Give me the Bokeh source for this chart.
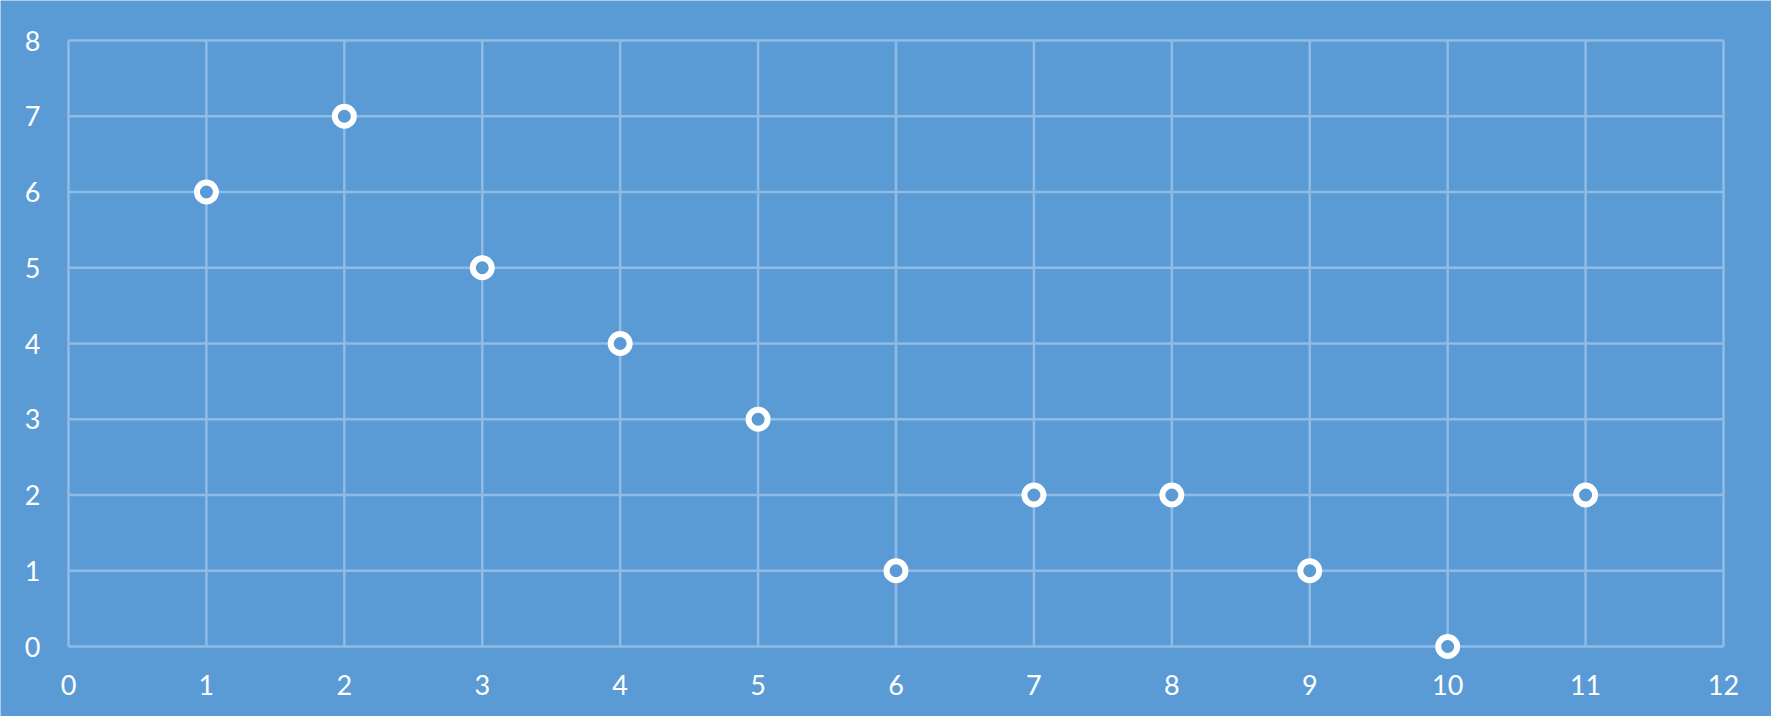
from bokeh.plotting import figure
from bokeh.models import Range1d, ColumnDataSource
from bokeh.core.properties import value
from bokeh.embed import file_html
from bokeh.resources import INLINE

# data
x_vals = [1, 2, 3, 4, 5, 6, 7, 8, 9, 10, 11]
y_vals = [6, 7, 5, 4, 3, 1, 2, 2, 1, 0, 2]
x_ticks = [0, 1, 2, 3, 4, 5, 6, 7, 8, 9, 10, 11, 12]
y_ticks = [0, 1, 2, 3, 4, 5, 6, 7, 8]
x_tick_labels = [str(t) for t in x_ticks]
y_tick_labels = [str(t) for t in y_ticks]

BG = "#5B9BD5"
GRID = "#8FBBE5"
FONT = "Lato"

W, H = 1771, 716
# pixel layout of plot area inside figure
left_px, right_px = 68, 1723
top_px, bottom_px = 40, 646
xmin, xmax = x_ticks[0], x_ticks[-1]
ymin, ymax = y_ticks[0], y_ticks[-1]
ux = (right_px - left_px) / (xmax - xmin)
uy = (bottom_px - top_px) / (ymax - ymin)

p = figure(width=W, height=H, output_backend="svg", toolbar_location=None,
           x_range=Range1d(xmin - left_px / ux, xmax + (W - right_px) / ux),
           y_range=Range1d(ymin - (H - bottom_px) / uy, ymax + top_px / uy),
           x_axis_type=None, y_axis_type=None,
           min_border=0, min_border_left=0, min_border_right=0,
           min_border_top=0, min_border_bottom=0)
p.background_fill_color = BG
p.border_fill_color = BG
p.outline_line_color = None
p.grid.visible = False

# gridlines
p.segment(x0=x_ticks, y0=[ymin] * len(x_ticks), x1=x_ticks, y1=[ymax] * len(x_ticks),
          line_color=GRID, line_width=2.5)
p.segment(x0=[xmin] * len(y_ticks), y0=y_ticks, x1=[xmax] * len(y_ticks), y1=y_ticks,
          line_color=GRID, line_width=2.5)

# tick labels
p.text(x=[xmin] * len(y_ticks), y=y_ticks, text=y_tick_labels, x_offset=-28,
       text_align="right", text_baseline="middle", text_color="white",
       text_font=value(FONT), text_font_size="27px")
p.text(x=x_ticks, y=[ymin] * len(x_ticks), text=x_tick_labels, y_offset=38,
       text_align="center", text_baseline="middle", text_color="white",
       text_font=value(FONT), text_font_size="27px")

# points
src = ColumnDataSource(dict(x=x_vals, y=y_vals))
p.scatter("x", "y", source=src, marker="circle", size=19, line_width=6,
          line_color="white", fill_color=BG)

open("out.html", "w").write(file_html(p, INLINE))
